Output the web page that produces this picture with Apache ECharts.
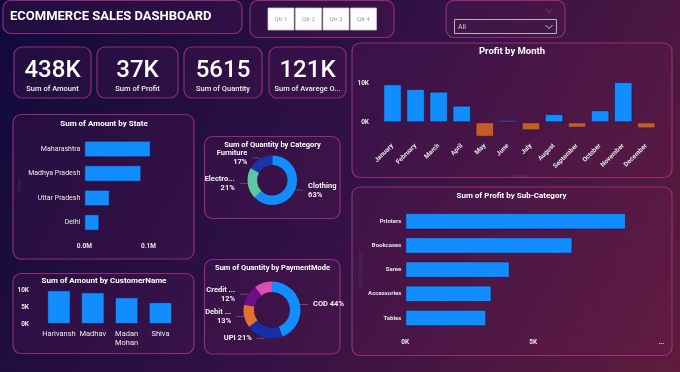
<!DOCTYPE html>
<html><head><meta charset="utf-8">
<script src="https://cdn.jsdelivr.net/npm/echarts@6/dist/echarts.min.js"></script>
<style>html,body{margin:0;padding:0;background:#120a3a}#c{width:680px;height:372px}</style>
</head><body><div id="c"></div>
<script>
// ---------- data ----------
const dashTitle = 'ECOMMERCE SALES DASHBOARD';
const quarters = ['Qtr 1', 'Qtr 2', 'Qtr 3', 'Qtr 4'];
const kpiValues = ['438K', '37K', '5615', '121K'];
const kpiLabels = ['Sum of Amount', 'Sum of Profit', 'Sum of Quantity', 'Sum of Avarege O...'];

const states = ['Maharashtra', 'Madhya Pradesh', 'Uttar Pradesh', 'Delhi'];
const stateAmount = [0.1034, 0.0888, 0.0396, 0.0234];           // millions
const stateTicks = [0, 0.1];

const categories = ['Clothing', 'Electronics', 'Furniture'];
const categoryQty = [3516, 1154, 945];

const customers = ['Harivansh', 'Madhav', 'Madan Mohan', 'Shiva'];
const customerAmount = [9900, 9300, 7850, 6400];
const customerTicks = [0, 5000, 10000];

const payModes = ['COD', 'UPI', 'Debit Card', 'Credit Card', 'EMI'];
const payQty = [2471, 1179, 730, 674, 561];
const hiddenPieLabels = ['EMI'];

const months = ['January', 'February', 'March', 'April', 'May', 'June', 'July', 'August', 'September', 'October', 'November', 'December'];
const monthProfit = [9740, 8540, 7850, 4270, -3700, 600, -2050, 2100, -1380, 3070, 10300, -1540];
const monthTicks = [0, 10000];

const subCats = ['Printers', 'Bookcases', 'Saree', 'Accessories', 'Tables'];
const subCatProfit = [8620, 6530, 4080, 3370, 3160];
const subCatTicks = [0, 5000, 10000];

// ---------- style ----------
const BLUE = '#118DFF', NEG = '#C45C26';
const FONT = 'Roboto, "Noto Sans", sans-serif';
const axisText = { color: '#e6e6e6', fontSize: 6.5, fontWeight: 'bold', fontFamily: FONT };
const barBorder = { borderColor: 'rgba(40,10,60,0.55)', borderWidth: 1 };

function kfmt(v) { return (v / 1000) + 'K'; }
function shortName(n) {
  if (n.length <= 9) return n;
  const i = n.indexOf(' ');
  return i > 0 ? n.slice(0, i) + ' ...' : n.slice(0, 7) + '...';
}
function pieFmt(p) {
  const n = shortName(p.name), pc = Math.round(p.percent) + '%';
  return n.length <= 4 ? n + ' ' + pc : n + '\n' + pc;
}

// ---------- graphic (panels & texts) ----------
const G = [];
function panel(x, y, w, h, r) {
  G.push({ type: 'rect', z: -10, shape: { x, y, width: w, height: h, r: r || 8 },
    style: { fill: 'rgba(120,28,95,0.16)', stroke: 'rgba(168,52,132,0.8)', lineWidth: 1.2 } });
}
function text(t, x, y, font, fill, align) {
  G.push({ type: 'text', z: 5, x, y, style: { text: t, font, fill: fill || '#fff',
    textAlign: align || 'center', textVerticalAlign: 'middle' } });
}
panel(3, 0.5, 239, 33);
panel(250, 0.5, 144, 37);
panel(446, 0.5, 119, 37);
const kpiX = [14, 97, 184, 269], kpiW = [77, 81, 78, 77];
kpiX.forEach((x, i) => panel(x, 47, kpiW[i], 51));
panel(13, 114.5, 181, 144.5);
panel(204.5, 136.5, 135.5, 82);
panel(13, 273.5, 181, 80);
panel(204.5, 259.5, 135.5, 94.5);
panel(352, 43, 320, 134.5);
panel(352, 187, 320, 168.5);

text(dashTitle, 10, 17, 'bold 13px ' + FONT, '#ffffff', 'left');
quarters.forEach((q, i) => {
  const x = 268 + i * 27.5;
  G.push({ type: 'rect', z: 1, shape: { x, y: 8, width: 26, height: 22 }, style: { fill: '#ffffff', stroke: '#c8c8c8', lineWidth: 0.8 } });
  text(q, x + 13, 19, '6px ' + FONT, '#9a9a9a');
});
G.push({ type: 'rect', z: 1, shape: { x: 454.5, y: 19.5, width: 102, height: 14 }, style: { fill: 'rgba(60,25,70,0.5)', stroke: '#b9b2bd', lineWidth: 1 } });
text('All', 458, 27, '7px ' + FONT, '#d0cbd3', 'left');
G.push({ type: 'polyline', z: 2, shape: { points: [[545.5, 25], [549, 28.5], [552.5, 25]] }, style: { stroke: '#d0cbd3', lineWidth: 1, fill: null } });
G.push({ type: 'polyline', z: 2, shape: { points: [[545.5, 9], [549, 12.5], [552.5, 9]] }, style: { stroke: 'rgba(255,255,255,0.22)', lineWidth: 1, fill: null } });

kpiValues.forEach((v, i) => {
  const cx = kpiX[i] + kpiW[i] / 2;
  text(v, cx, 70.5, '500 24px ' + FONT, '#ffffff');
  text(kpiLabels[i], cx, 89, '500 7.5px ' + FONT, '#f0f0f0');
});

text('Sum of Amount by State', 104, 123.5, 'bold 8px ' + FONT);
text('Sum of Quantity by Category', 272.5, 145, 'bold 7.5px ' + FONT);
text('Sum of Amount by CustomerName', 104, 281, 'bold 8px ' + FONT);
text('Sum of Quantity by PaymentMode', 272.5, 268.5, 'bold 7.5px ' + FONT);
text('Profit by Month', 512, 51.5, 'bold 9.5px ' + FONT);
text('Sum of Profit by Sub-Category', 511.5, 195.5, 'bold 8px ' + FONT);

// ---------- chart ----------
const chart = echarts.init(document.getElementById('c'), null, { renderer: 'canvas' });
const noLine = { show: false };
const pieLabel = { formatter: pieFmt, color: '#f2f2f2', fontSize: 7.5, fontWeight: 'bold', fontFamily: FONT, lineHeight: 9 };
const pieLine = { length: 1, length2: 7, lineStyle: { color: 'rgba(255,255,255,0.3)', width: 0.8 } };
chart.setOption({
  backgroundColor: { type: 'linear', x: 0, y: 0, x2: 1, y2: 1,
    colorStops: [{ offset: 0, color: '#100a3a' }, { offset: 0.5, color: '#321146' }, { offset: 1, color: '#5f1c3c' }] },
  animation: false,
  graphic: { elements: G },
  grid: [
    { left: 84.3, top: 136.8, width: 77, height: 97.9 },
    { left: 42, top: 288.3, width: 135.4, height: 35.7 },
    { left: 381, top: 75.5, width: 276.8, height: 66.3 },
    { left: 405.3, top: 209.2, width: 256, height: 120.9 }
  ],
  xAxis: [
    { gridIndex: 0, type: 'value', min: 0, max: 0.12, axisLine: noLine, axisTick: noLine, splitLine: noLine,
      axisLabel: Object.assign({ customValues: stateTicks, margin: 8, formatter: v => v.toFixed(1) + 'M' }, axisText) },
    { gridIndex: 1, type: 'category', data: customers, axisLine: noLine, axisTick: noLine,
      axisLabel: Object.assign({}, axisText, { fontSize: 7.5, fontWeight: 'normal', color: '#ececec', margin: 6, interval: 0, lineHeight: 9,
        formatter: v => v.replace(' ', '\n') }) },
    { gridIndex: 2, type: 'category', data: months, axisLine: noLine, axisTick: noLine,
      name: 'Month', nameLocation: 'middle', nameGap: 26, nameTextStyle: { color: 'rgba(255,255,255,0.12)', fontSize: 6 },
      axisLabel: Object.assign({}, axisText, { rotate: 45, interval: 0, margin: 3, fontSize: 6.5 }) },
    { gridIndex: 3, type: 'value', min: 0, max: 10000, axisLine: noLine, axisTick: noLine, splitLine: noLine,
      axisLabel: Object.assign({ customValues: subCatTicks, margin: 9, formatter: v => v >= 10000 ? '...' : kfmt(v) }, axisText) }
  ],
  yAxis: [
    { gridIndex: 0, type: 'category', data: states, inverse: true, axisLine: noLine, axisTick: noLine,
      name: 'State', nameLocation: 'middle', nameGap: 62, nameTextStyle: { color: 'rgba(255,255,255,0.1)', fontSize: 6 },
      axisLabel: Object.assign({}, axisText, { fontSize: 7, fontWeight: 'normal', color: '#ececec', margin: 4 }) },
    { gridIndex: 1, type: 'value', min: 0, max: 10500, axisLine: noLine, axisTick: noLine, splitLine: noLine,
      axisLabel: Object.assign({ customValues: customerTicks, margin: 13, formatter: kfmt }, axisText) },
    { gridIndex: 2, type: 'value', min: -5000, max: 12000, axisLine: noLine, axisTick: noLine, splitLine: noLine,
      axisLabel: Object.assign({ customValues: monthTicks, margin: 12, formatter: kfmt }, axisText) },
    { gridIndex: 3, type: 'category', data: subCats, inverse: true, axisLine: noLine, axisTick: noLine,
      name: 'Sub-Category', nameLocation: 'middle', nameGap: 42, nameTextStyle: { color: 'rgba(255,255,255,0.1)', fontSize: 6 },
      axisLabel: Object.assign({}, axisText, { fontSize: 6, margin: 4 }) }
  ],
  series: [
    { type: 'bar', xAxisIndex: 0, yAxisIndex: 0, data: stateAmount, barCategoryGap: '33%', itemStyle: Object.assign({ color: BLUE }, barBorder) },
    { type: 'bar', xAxisIndex: 1, yAxisIndex: 1, data: customerAmount, barCategoryGap: '31%', itemStyle: Object.assign({ color: BLUE }, barBorder) },
    { type: 'bar', xAxisIndex: 2, yAxisIndex: 2, barCategoryGap: '20%',
      data: monthProfit.map(v => ({ value: v, itemStyle: { color: v < 0 ? NEG : BLUE } })), itemStyle: barBorder },
    { type: 'bar', xAxisIndex: 3, yAxisIndex: 3, data: subCatProfit, barCategoryGap: '32%', itemStyle: Object.assign({ color: BLUE }, barBorder) },
    { type: 'pie', center: [272.3, 180.2], radius: [15.3, 24.8], startAngle: 90, clockwise: true,
      color: [BLUE, '#5CC8A0', '#1836A8'],
      data: categories.map((n, i) => ({ name: n, value: categoryQty[i] })),
      label: pieLabel, labelLine: pieLine },
    { type: 'pie', center: [272, 310], radius: [18, 28.5], startAngle: 90, clockwise: true,
      color: [BLUE, '#1530A6', '#E4712F', '#6E0E8A', '#DB4FB0'],
      data: payModes.map((n, i) => {
        const hide = hiddenPieLabels.indexOf(n) >= 0;
        return { name: n, value: payQty[i], label: { show: !hide }, labelLine: { show: !hide } };
      }),
      label: pieLabel, labelLine: pieLine }
  ]
});
</script></body></html>
